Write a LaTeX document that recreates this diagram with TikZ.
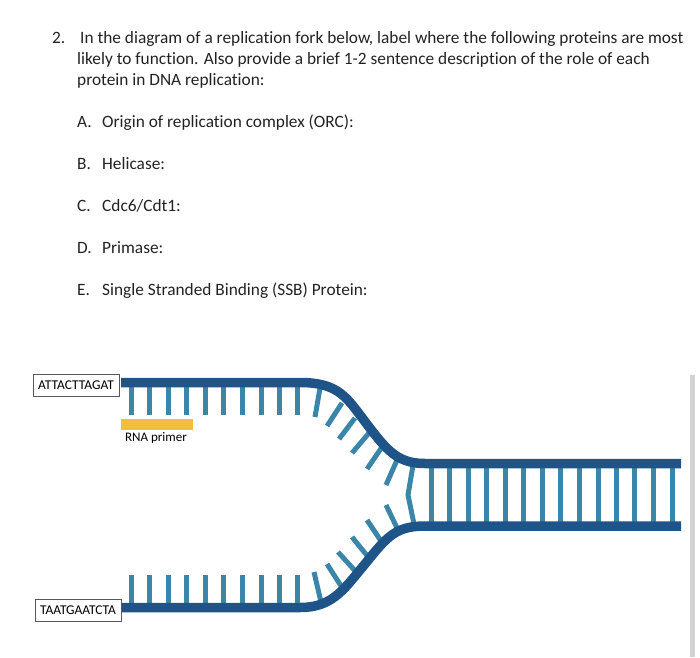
\documentclass[tikz,border=0pt]{standalone}
\usepackage{fontspec}
\setmainfont[Ligatures=CommonOff]{Carlito}
\usepackage{xcolor}
\usepackage{tikz}
\usetikzlibrary{calc}
\definecolor{strandblue}{HTML}{1F5488}
\definecolor{rungblue}{HTML}{3B86A8}
\definecolor{primeryellow}{HTML}{F5BC42}
\definecolor{barhue}{HTML}{D2D2D2}
\definecolor{inkgray}{HTML}{222222}
\tikzstyle{every node}=[inner sep=0pt,text=inkgray]
\tikzstyle{question}=[anchor=base west,font=\fontsize{17.25bp}{20bp}\selectfont]
\tikzstyle{strand}=[line width=9.5pt,strandblue]
\tikzstyle{rung}=[line width=5pt,rungblue]
\tikzstyle{seqbox}=[draw=black!65,line width=0.8pt,fill=white,minimum width=86pt,minimum height=22pt,font=\fontsize{13.4bp}{14bp}\selectfont,text=black]

\begin{document}
\begin{tikzpicture}[x=1pt,y=-1pt]
        \useasboundingbox (0,0) rectangle (700,657);

        % question text
        \node [question] (num) at (52,43) {2.};
        \node [question] (line1) at (80,43) {In the diagram of a replication fork below, label where the following proteins are most};
        \node [question] (line2) at (77,64) {likely to function.  Also provide a brief 1-2 sentence description of the role of each};
        \node [question] (line3) at (77,85) {protein in DNA replication:};

        \node [question] (itemA) at (77,127) {A.};
        \node [question] (textA) at (102,127) {Origin of replication complex (ORC):};
        \node [question] (itemB) at (77,169) {B.};
        \node [question] (textB) at (102,169) {Helicase:};
        \node [question] (itemC) at (77,211) {C.};
        \node [question] (textC) at (102,211) {Cdc6/Cdt1:};
        \node [question] (itemD) at (77,253) {D.};
        \node [question] (textD) at (102,253) {Primase:};
        \node [question] (itemE) at (77,295) {E.};
        \node [question] (textE) at (102,295) {Single Stranded Binding (SSB) Protein:};

        % scrollbar at the right
        \fill [barhue] (690,375) rectangle (695,657);

        % rungs on the straight parts
        \foreach \x in {131,149,168,186,205,223,242,261,279,297} {
            \draw [rung] (\x,385) -- (\x,415);
            \draw [rung] (\x,575) -- (\x,605);
        }
        \foreach \x in {431,449,468,486,505,523,542,560,579,598,616,634,653,672} {
            \draw [rung] (\x,465) -- (\x,524);
        }

        % rungs on the slanted parts
        \foreach \xa/\ya/\xb/\yb in {315/417/320/388,327/426/342/403,339/439/355/418,352/453/369/433,367/469/382/447,386/485/397/460} {
            \draw [rung] (\xa,\ya) -- (\xb,\yb);
        }
        \foreach \xa/\ya/\xb/\yb in {386/505/398/530,367/520/383/544,352/537/369/558,338/552/357/573,327/564/343/589,314/572/321/602} {
            \draw [rung] (\xa,\ya) -- (\xb,\yb);
        }
        \draw [rung] (413,465) -- (408,495) -- (414,524);

        % backbones
        \draw [strand] (121,382.5) -- (300,382.5) .. controls (335,382.5) and (345,395) .. (360,415) .. controls (385,448) and (395,463.5) .. (425,463.5) -- (681,463.5);
        \draw [strand] (121,607.5) -- (300,607.5) .. controls (330,607.5) and (342,592) .. (360,570) .. controls (385,540) and (392,526) .. (425,526) -- (681,526);

        % primer and labels
        \fill [primeryellow] (121,419) rectangle (193,430);
        \node [font=\fontsize{13bp}{14bp}\selectfont,text=black] (primer) at (156,438) {RNA primer};
        \node [seqbox] (topseq) at (76,385) {ATTACTTAGAT};
        \node [seqbox] (botseq) at (78,610) {TAATGAATCTA};
\end{tikzpicture}
\end{document}
